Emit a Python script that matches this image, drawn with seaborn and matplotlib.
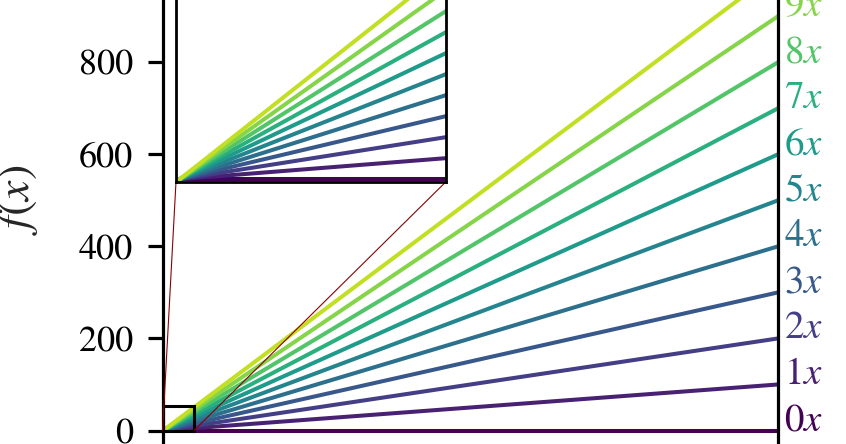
import numpy as np
import pandas as pd
import matplotlib
matplotlib.use("Agg")
import matplotlib.pyplot as plt
import seaborn as sns
from mpl_toolkits.axes_grid1.inset_locator import mark_inset

# ---- data ----
slopes = [0, 1, 2, 3, 4, 5, 6, 7, 8, 9, 10]
x_ends = [0, 100]
y_ends = [0, 100, 200, 300, 400, 500, 600, 700, 800, 900, 1000]
labels = [f"{k}$x$" for k in slopes]
y_ticks = [0, 200, 400, 600, 800, 1000]

rows = []
for k, ye in zip(slopes, y_ends):
    rows.append({"x": x_ends[0], "y": 0, "k": k})
    rows.append({"x": x_ends[1], "y": ye, "k": k})
df = pd.DataFrame(rows)

sns.set_theme(style="ticks")
plt.rcParams["font.family"] = ["STIXGeneral", "DejaVu Serif"]
plt.rcParams["mathtext.fontset"] = "stix"

cmap = matplotlib.colormaps["viridis"]
colors = sns.color_palette([cmap(k / (len(slopes))) for k in range(len(slopes))])
pal = {k: c for k, c in zip(slopes, colors)}

W, H = 846, 444
fig = plt.figure(figsize=(W / 100, H / 100), dpi=100)

y0_px, scale = 430.5, 0.4603
ylim = (-50, 1050)
bottom_px = y0_px + 50 * scale
height_px = 1100 * scale
ax = fig.add_axes([163 / W, (H - bottom_px) / H, 615 / W, height_px / H])

sns.lineplot(data=df, x="x", y="y", hue="k", palette=pal, legend=False,
             linewidth=2.9, ax=ax)
ax.set_xlim(0, 100)
ax.set_ylim(*ylim)
ax.set_yticks(y_ticks)
ax.set_xlabel("")
ax.set_ylabel("$f(x)$", fontsize=33)
ax.yaxis.set_label_coords(-0.2, 0.5)
for s in ax.spines.values():
    s.set_linewidth(2.3)
    s.set_color("black")
ax.tick_params(axis="both", length=10.5, width=2.3, pad=11, labelsize=26,
               color="black", labelcolor="black")

for k, ye, lab in zip(slopes, y_ends, labels):
    ax.annotate(lab, xy=(x_ends[1], ye), xytext=(4.5, 0),
                textcoords="offset points", ha="left", va="baseline",
                fontsize=28, color=pal[k], annotation_clip=False)

# ---- inset ----
inset_h = 224
axins = fig.add_axes([176 / W, (H - 181.7) / H, 270 / W, inset_h / H])
sns.lineplot(data=df, x="x", y="y", hue="k", palette=pal, legend=False,
             linewidth=2.9, ax=axins)
axins.set_xlim(-0.07, 5)
axins.set_ylim(-0.6, 52.7)
axins.set_xticks([])
axins.set_yticks([])
axins.set_xlabel("")
axins.set_ylabel("")
for s in axins.spines.values():
    s.set_linewidth(2.0)
    s.set_color("black")

pp, p1, p2 = mark_inset(ax, axins, loc1=3, loc2=4, fc="none", ec="darkred", lw=0.8)
pp.set_edgecolor("black")
pp.set_linewidth(2.2)
pp.set_zorder(5)

fig.savefig("out.png", dpi=100)
